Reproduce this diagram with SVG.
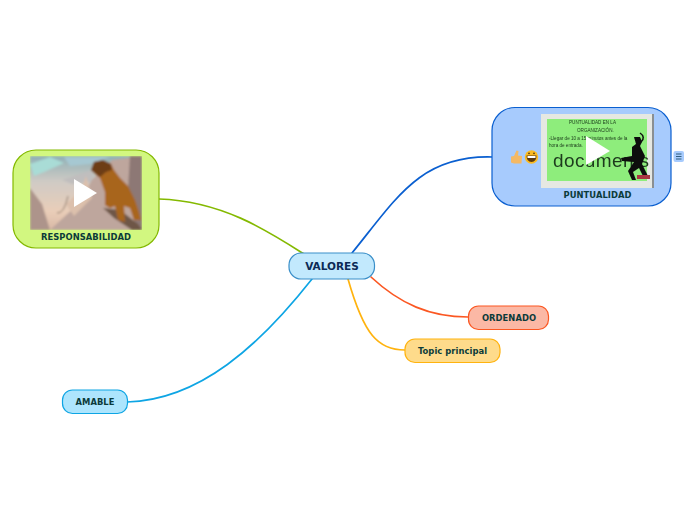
<svg xmlns="http://www.w3.org/2000/svg" width="696" height="520" viewBox="0 0 696 520">
<style>
text{font-family:"DejaVu Sans",sans-serif;font-weight:700;text-anchor:middle}
.l{font-size:8.4px;fill:#0b3b3a;letter-spacing:.05px}
.c{fill:none;stroke-width:1.7;stroke-linecap:round}
.n{stroke-width:1.2}
.h{font-family:"Liberation Sans",sans-serif;font-weight:400;fill:#1c3a1c;font-size:4.600px;text-anchor:start}
</style>
<defs>
<linearGradient id="sky" x1="0" y1="0" x2="0" y2="1"><stop offset="0" stop-color="#8fb0b6"/><stop offset=".35" stop-color="#d0cbc5"/><stop offset=".75" stop-color="#e9cdb8"/><stop offset="1" stop-color="#d9b9a6"/></linearGradient>
<filter id="b1" x="-10%" y="-10%" width="120%" height="120%"><feGaussianBlur stdDeviation="0.8"/></filter>
<filter id="b2" x="-10%" y="-10%" width="120%" height="120%"><feGaussianBlur stdDeviation="0.4"/></filter>
<clipPath id="lionClip"><rect x="30" y="156" width="112" height="74"/></clipPath>
</defs>
<g id="connectors">
<path class="c" stroke="#84b900" d="M159 199C222 201 268 231 304 254"/>
<path class="c" stroke="#0a5fd0" d="M492 157C420 155 396 199 352 253"/>
<path class="c" stroke="#fb5722" d="M468 317C430 317 400 304 371 277"/>
<path class="c" stroke="#ffb30f" d="M405 350C378 350 364 335 348 279"/>
<path class="c" stroke="#0ea5e4" d="M127 402C200 400 260 345 312 279"/>
</g>
<g id="node-valores">
<rect class="n" x="289" y="253" width="85.500" height="26" rx="12" fill="#c2e9fd" stroke="#3a8fc9"/>
<text x="332" y="270" font-size="10.500" fill="#0c2a55">VALORES</text>
</g>
<g id="node-responsabilidad">
<rect class="n" x="13" y="150" width="146" height="98" rx="23" fill="#d2f780" stroke="#84b900"/>
<g clip-path="url(#lionClip)">
<g filter="url(#b1)">
<rect x="30" y="156" width="112" height="74" fill="url(#sky)"/>
<path d="M30 164L50 157L64 163L44 172L34 176Z" fill="#a9dcd6"/>
<path d="M64 157H110L90 164L70 166Z" fill="#a6c8d2"/>
<path d="M62 180L92 170L94 182L72 184Z" fill="#c0bebe"/>
<path d="M30 188L42 204L50 230H30Z" fill="#ad948b"/>
<path d="M50 230L76 206L92 180L112 160L142 156V230Z" fill="#bea69d"/>
<path d="M130 156H142V230H136L128 190Z" fill="#8d7875"/>
<path d="M66 204Q83 190 86 176L92 198L74 216Z" fill="#dcc0ac"/>
<path d="M57 213Q64 214 68 196" fill="none" stroke="#8a7668" stroke-width="1"/>
<path d="M103 208L120 210L138 224L142 230H132L114 218Z" fill="#6e5647"/>
<path d="M91 170L94 162L103 160L111 164L114 170L120 178L128 186L135 200L139 212L141 220L134 220L130 208L124 206L125 222L118 220L115 206L110 208L105 205L105 192L100 178L96 175Z" fill="#a8651f"/>
<path d="M91 170L94 162L103 160L111 164L112 170L106 172L100 177Z" fill="#6d3c18"/>
</g>
</g>
<path d="M74 179L97 193L74 207Z" fill="#fff"/>
<text class="l" x="86" y="240">RESPONSABILIDAD</text>
</g>
<g id="node-puntualidad">
<rect class="n" x="492" y="107.500" width="179" height="98.500" rx="23" fill="#a7cbfd" stroke="#0a5fd0"/>
<g filter="url(#b2)">
<rect x="541" y="114" width="113" height="74" fill="#e6e8e2"/>
<rect x="547" y="119" width="100" height="62" fill="#8eed7c"/>
<rect x="652" y="114" width="2" height="74" fill="#8a8f92"/>
</g>
<g filter="url(#b2)">
<text class="h" x="569" y="124">PUNTUALIDAD EN LA</text>
<text class="h" x="577" y="132">ORGANIZACIÓN.</text>
<text class="h" x="549" y="140">-Llegar de 10 a 15 minutos antes de la</text>
<text class="h" x="549" y="147">hora de entrada.</text>
<text x="553" y="167" font-size="19" style="font-family:'Liberation Sans',sans-serif;font-weight:400;text-anchor:start" fill="#1e3a1e" textLength="96" lengthAdjust="spacing">documents</text>
<path d="M634 137L640 137L642 142L640 146L645 156L642 164L646 172L649 178L644 178L639 168L633 172L636 180L632 180L628 171L634 162L622 161L621 158L632 156L632 147L636 144Z" fill="#0b0b0b"/>
<path d="M640 133Q646 137 641 142" fill="none" stroke="#0b0b0b" stroke-width="1.500"/>
<rect x="637" y="175" width="13" height="4" fill="#a93440"/>
</g>
<path d="M586 136L610 151L586 165Z" fill="#fff"/>
<g>
<path d="M511 156.500L514 156L516.500 150.500L518.500 151L518 155.500L522 156L521.500 163.500L514 163.500L511 162.500Z" fill="#f4b965"/>
<circle cx="531.500" cy="157" r="6.700" fill="#fbbb20"/>
<path d="M526.500 155.500H536.500Q536.500 162 531.500 162Q526.500 162 526.500 155.500Z" fill="#5a3a10"/>
<rect x="527.500" y="156" width="8" height="2" fill="#fff"/>
<circle cx="529" cy="153.300" r=".9" fill="#5a3a10"/>
<circle cx="534" cy="153.300" r=".9" fill="#5a3a10"/>
</g>
<text class="l" x="597.500" y="198">PUNTUALIDAD</text>
</g>
<g id="node-notes">
<rect x="673.500" y="151" width="10.500" height="11" rx="2" fill="#a7cbfd"/>
<path d="M676 154H681.500M676 156.500H681.500M676 159H681.500" stroke="#2f5f80" stroke-width="1" fill="none"/>
</g>
<g id="node-ordenado">
<rect class="n" x="468.500" y="306" width="80" height="23.500" rx="10" fill="#fbb8a5" stroke="#fb5722"/>
<text class="l" x="509" y="321">ORDENADO</text>
</g>
<g id="node-topic">
<rect class="n" x="405" y="339" width="95" height="23.500" rx="10" fill="#fedb8b" stroke="#ffb30f"/>
<text class="l" x="452.500" y="354">Topic principal</text>
</g>
<g id="node-amable">
<rect class="n" x="62.500" y="390" width="65" height="23.500" rx="10" fill="#ade5fd" stroke="#0ea5e4"/>
<text class="l" x="95" y="405">AMABLE</text>
</g>
</svg>
